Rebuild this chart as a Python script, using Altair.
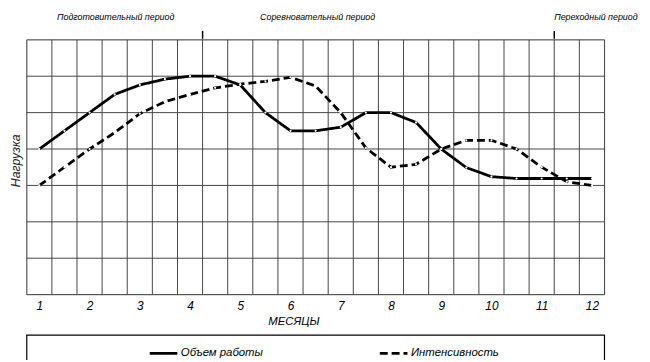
import altair as alt
import pandas as pd

# --- data ---
months = [1, 1.5, 2, 2.5, 3, 3.5, 4, 4.5, 5, 5.5, 6, 6.5, 7, 7.5, 8, 8.5, 9, 9.5, 10, 10.5, 11, 11.5, 12]
volume = [4.0, 4.5, 5.0, 5.5, 5.76, 5.92, 6.0, 6.0, 5.76, 5.0, 4.5, 4.5, 4.6, 5.0, 5.0, 4.73, 4.0, 3.49, 3.24, 3.19, 3.19, 3.19, 3.19]
intensity = [3.0, 3.5, 4.0, 4.45, 4.97, 5.3, 5.5, 5.68, 5.78, 5.86, 5.97, 5.73, 5.0, 4.03, 3.5, 3.58, 4.0, 4.24, 4.24, 4.0, 3.5, 3.1, 3.0]
series_names = ["Объем работы", "Интенсивность"]
month_ticks = [1, 2, 3, 4, 5, 6, 7, 8, 9, 10, 11, 12]
grid_x = [0.75, 1.25, 1.75, 2.25, 2.75, 3.25, 3.75, 4.25, 4.75, 5.25, 5.75, 6.25,
          6.75, 7.25, 7.75, 8.25, 8.75, 9.25, 9.75, 10.25, 10.75, 11.25, 11.75, 12.25]
grid_y = [0, 1, 2, 3, 4, 5, 6, 7]
period_names = ["Подготовительный период", "Соревновательный период", "Переходный период"]
period_pos = [2.52, 6.54, 12.08]
period_bounds = [4.25, 11.25]

FONT = "Liberation Sans"

df = pd.DataFrame({
    "x": months * 2,
    "y": volume + intensity,
    "series": [series_names[0]] * len(months) + [series_names[1]] * len(months),
})
gx = pd.DataFrame({"x": grid_x})
gy = pd.DataFrame({"y": grid_y})
periods = pd.DataFrame({"x": period_pos, "label": period_names})
bounds = pd.DataFrame({"x": period_bounds})

xscale = alt.Scale(domain=[0.75, 12.25], nice=False, zero=False)
yscale = alt.Scale(domain=[0, 7], nice=False, zero=False)

xaxis = alt.Axis(values=month_ticks, grid=False, ticks=False, domain=False,
                 labelFont=FONT, labelFontSize=12, labelFontStyle="italic",
                 labelColor="black", labelPadding=6,
                 title="МЕСЯЦЫ", titleFont=FONT, titleFontSize=11.5,
                 titleFontStyle="italic", titleFontWeight="normal",
                 titleColor="black", titlePadding=4, titleX=270)
yaxis = alt.Axis(labels=False, ticks=False, domain=False, grid=False,
                 title="Нагрузка", titleFont=FONT, titleFontSize=12.5,
                 titleFontStyle="italic", titleFontWeight="normal",
                 titleColor="#222", titlePadding=4, titleY=122)

X = alt.X("x:Q", scale=xscale, axis=xaxis)
Y = alt.Y("y:Q", scale=yscale, axis=yaxis)

vgrid = alt.Chart(gx).mark_rule(color="#444444", strokeWidth=1).encode(x=X)
hgrid = alt.Chart(gy).mark_rule(color="#444444", strokeWidth=1).encode(y=Y)

legend = alt.Legend(
    title=None, orient="none", legendX=123, legendY=302, direction="horizontal",
    symbolType="stroke", symbolSize=784, symbolStrokeWidth=2.6, symbolStrokeColor="black",
    labelFont=FONT, labelFontSize=11.5, labelFontStyle="italic", labelColor="black",
    labelOffset=2, columnPadding=112, padding=0,
)

lines = alt.Chart(df).mark_line(strokeWidth=2.8).encode(
    x=X, y=Y,
    color=alt.Color("series:N", scale=alt.Scale(domain=series_names, range=["black", "black"]),
                    legend=legend),
    strokeDash=alt.StrokeDash("series:N",
                              scale=alt.Scale(domain=series_names, range=[[1, 0], [8, 4]]),
                              legend=legend),
    detail="series:N",
)

dots = alt.Chart(df).mark_point(filled=True, fill="white", size=5, strokeWidth=0, opacity=1).encode(
    x=X, y=Y,
)

ptext = alt.Chart(periods).mark_text(font=FONT, fontSize=9, fontStyle="italic",
                                     color="black", baseline="middle").encode(
    x=X,
    y=alt.value(-23),
    text="label:N",
)
pticks = alt.Chart(bounds).mark_rule(color="black", strokeWidth=1.5).encode(
    x=X,
    y=alt.value(-9),
    y2=alt.value(-1),
)

box = alt.Chart(pd.DataFrame({"b": [0]})).mark_rect(
    fill="white", fillOpacity=0, stroke="black", strokeWidth=1.2
).encode(
    x=alt.value(0), x2=alt.value(585), y=alt.value(299), y2=alt.value(345)
)

chart = alt.layer(vgrid, hgrid, lines, dots, ptext, pticks, box).properties(
    width=585, height=258,
    autosize=alt.AutoSizeParams(type="none"),
    padding={"left": 19, "top": 30, "right": 38, "bottom": 64},
).configure_view(stroke=None).configure(background="white")

chart.save("out.html", embed_options={"renderer": "svg", "actions": False})
